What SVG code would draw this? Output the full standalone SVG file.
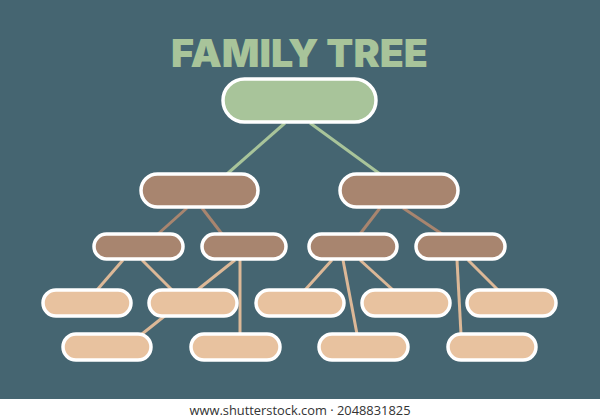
<svg xmlns="http://www.w3.org/2000/svg" width="600" height="420" viewBox="0 0 600 420">
<style>
.n rect{stroke:#ffffff;stroke-width:3.5}
.g{fill:#a8c49a}
.b{fill:#a8856f}
.t{fill:#e8c29f}
.c line{stroke-width:3;stroke-linecap:butt}
.lg{stroke:#a8c49a}
.lb{stroke:#a8856f}
.lt{stroke:#dcb897}
</style>
<rect width="600" height="420" fill="#456571"/>
<text x="299.5" y="67" text-anchor="middle" font-family="Inter, 'DejaVu Sans', sans-serif" font-weight="900" font-size="38" fill="#a8c49a" textLength="257" lengthAdjust="spacingAndGlyphs">FAMILY TREE</text>
<g id="connectors" class="c">
<line class="lg" x1="285" y1="123" x2="227" y2="174"/>
<line class="lg" x1="310" y1="123" x2="380" y2="174"/>
<line class="lb" x1="187" y1="208" x2="158" y2="234"/>
<line class="lb" x1="202" y1="208" x2="222" y2="234"/>
<line class="lb" x1="380" y1="208" x2="360" y2="234"/>
<line class="lb" x1="403" y1="208" x2="442" y2="234"/>
<line class="lt" x1="123" y1="260" x2="97" y2="290"/>
<line class="lt" x1="142" y1="260" x2="172" y2="290"/>
<line class="lt" x1="235" y1="260" x2="142" y2="334"/>
<line class="lt" x1="240" y1="260" x2="240" y2="334"/>
<line class="lt" x1="332" y1="260" x2="305" y2="290"/>
<line class="lt" x1="343" y1="260" x2="357" y2="334"/>
<line class="lt" x1="360" y1="260" x2="393" y2="290"/>
<line class="lt" x1="457" y1="260" x2="461" y2="334"/>
<line class="lt" x1="468" y1="260" x2="498" y2="290"/>
</g>
<g id="root" class="n"><rect class="g" x="223" y="79" width="153" height="43" rx="21.5"/></g>
<g id="p1" class="n"><rect class="b" x="141" y="174" width="117" height="33" rx="16.5"/></g>
<g id="p2" class="n"><rect class="b" x="340" y="174" width="118" height="33" rx="16.5"/></g>
<g id="c1" class="n"><rect class="b" x="94" y="234" width="89" height="25" rx="12.5"/></g>
<g id="c2" class="n"><rect class="b" x="202" y="234" width="84" height="25" rx="12.5"/></g>
<g id="c3" class="n"><rect class="b" x="309" y="234" width="88" height="25" rx="12.5"/></g>
<g id="c4" class="n"><rect class="b" x="416" y="234" width="89" height="25" rx="12.5"/></g>
<g id="g1" class="n"><rect class="t" x="43" y="290" width="88" height="26" rx="13"/></g>
<g id="g2" class="n"><rect class="t" x="149" y="290" width="88" height="26" rx="13"/></g>
<g id="g3" class="n"><rect class="t" x="256" y="290" width="88" height="26" rx="13"/></g>
<g id="g4" class="n"><rect class="t" x="362" y="290" width="88" height="26" rx="13"/></g>
<g id="g5" class="n"><rect class="t" x="467" y="290" width="89" height="26" rx="13"/></g>
<g id="h1" class="n"><rect class="t" x="63" y="334" width="88" height="26" rx="13"/></g>
<g id="h2" class="n"><rect class="t" x="191" y="334" width="89" height="26" rx="13"/></g>
<g id="h3" class="n"><rect class="t" x="319" y="334" width="89" height="26" rx="13"/></g>
<g id="h4" class="n"><rect class="t" x="448" y="334" width="88" height="26" rx="13"/></g>
<rect x="0" y="399" width="600" height="21" fill="#ffffff"/>
<text x="300" y="415" text-anchor="middle" font-family="'Open Sans', 'Liberation Sans', sans-serif" font-size="13" fill="#333333" textLength="221" lengthAdjust="spacingAndGlyphs">www.shutterstock.com · 2048831825</text>
</svg>
